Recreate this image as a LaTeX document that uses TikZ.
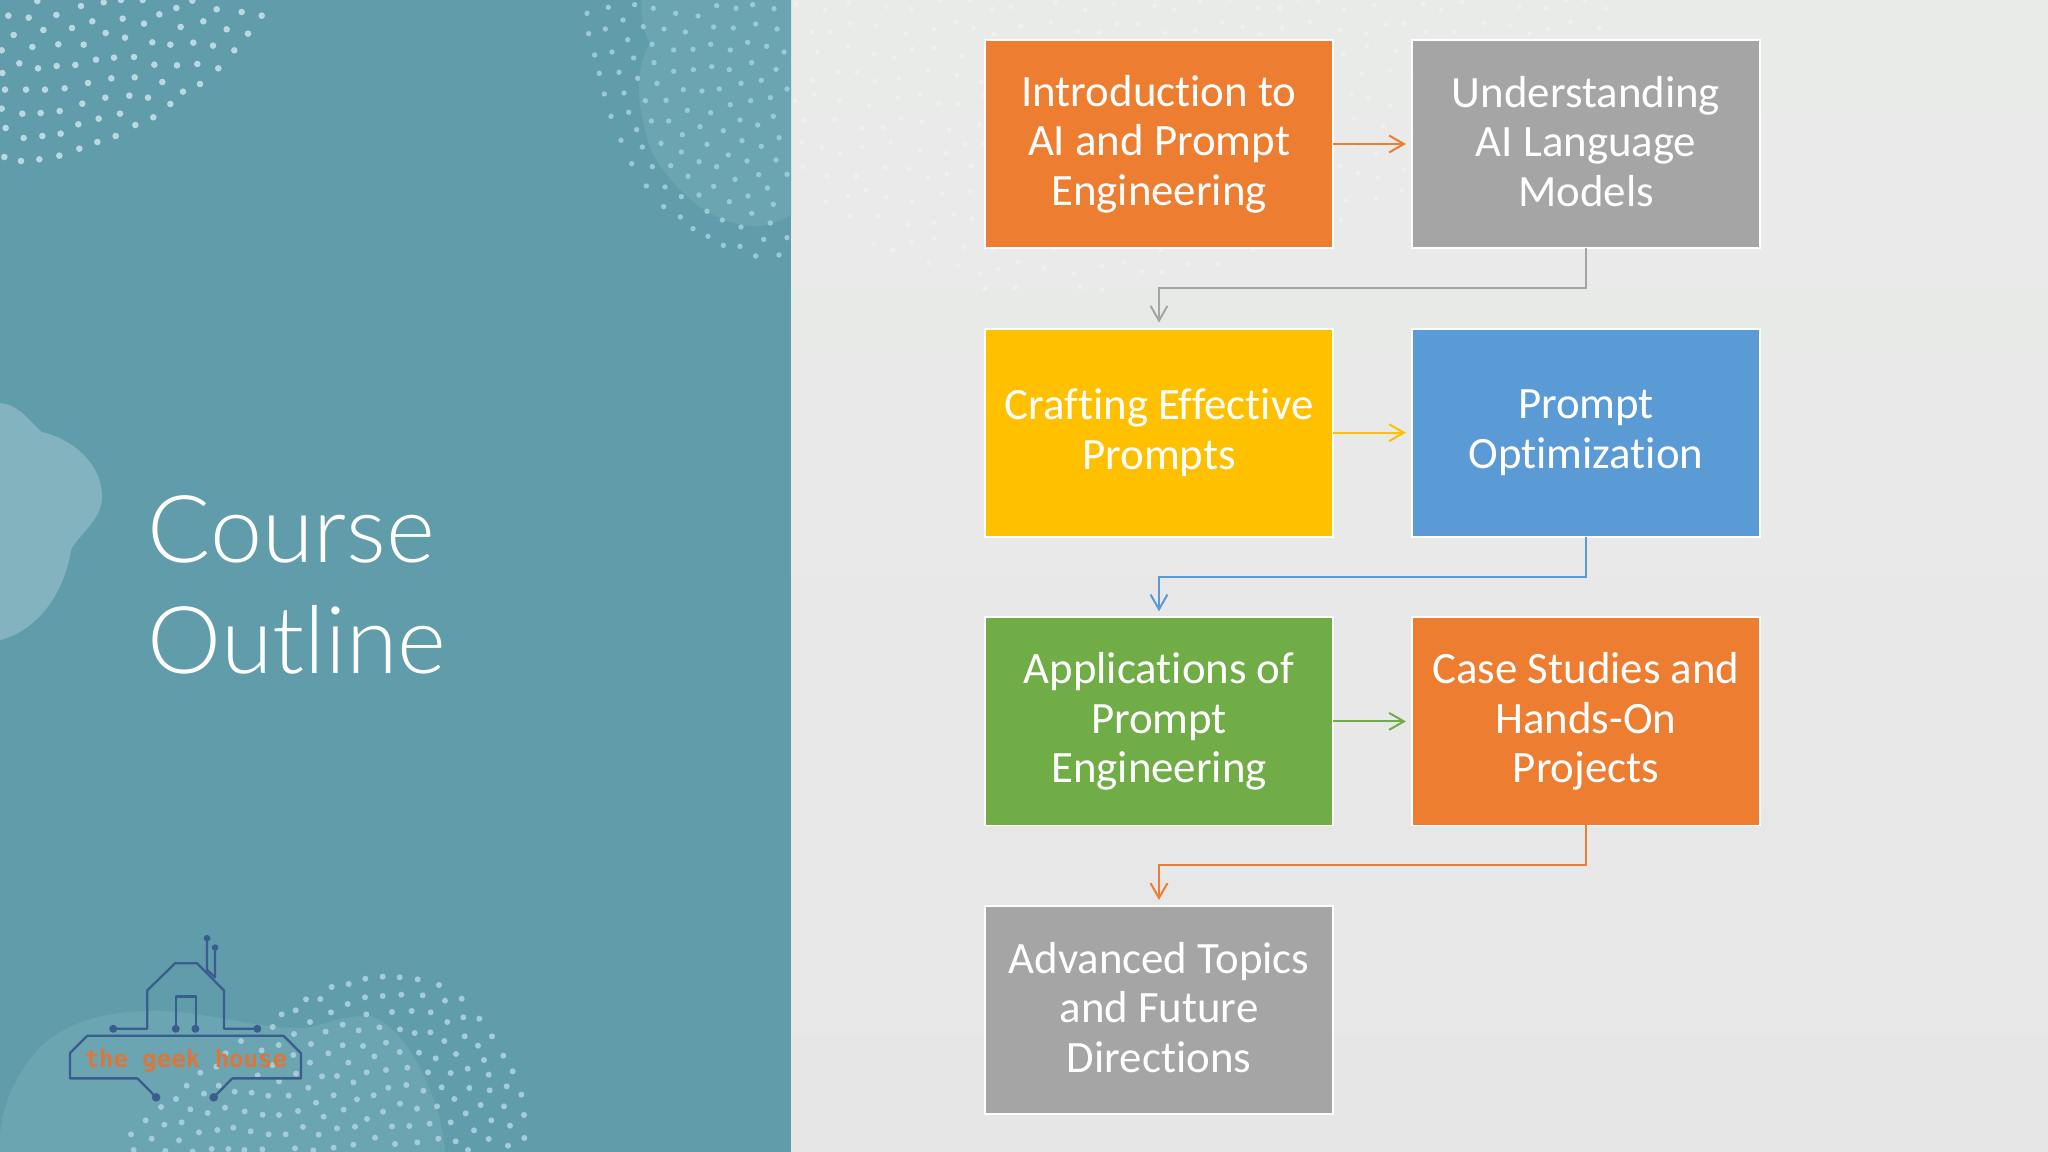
\documentclass[tikz,border=0pt]{standalone}
\usepackage{fontspec}
\setmainfont[Ligatures=CommonOff]{Carlito}
\newfontfamily\logofont[Ligatures=CommonOff]{DejaVu Sans Mono}
\newfontfamily\titlefont{Lato Light}
\usetikzlibrary{arrows.meta,calc}
\definecolor{panel}{HTML}{619CAB}
\definecolor{paperA}{HTML}{E9EBE9}
\definecolor{paperB}{HTML}{E7E6E7}
\definecolor{blobA}{HTML}{6BA5B2}
\definecolor{blobB}{HTML}{82B3BF}
\definecolor{faint}{HTML}{EFF0EF}
\definecolor{dotA}{HTML}{B9D8E2}
\definecolor{dotB}{HTML}{9BC9D5}
\definecolor{dotC}{HTML}{A5CDD8}
\definecolor{boxorange}{HTML}{ED7D31}
\definecolor{boxgray}{HTML}{A5A5A5}
\definecolor{boxyellow}{HTML}{FFC000}
\definecolor{boxblue}{HTML}{5B9BD5}
\definecolor{boxgreen}{HTML}{70AD47}
\definecolor{logoblue}{HTML}{3B5C8E}
\definecolor{logotext}{HTML}{D9773D}
\newcommand{\boxstrut}{\rule[-1.66pt]{0pt}{14.08pt}}
\tikzset{
  stepbox/.style={draw=white,line width=0.5pt,minimum width=3.48cm,minimum height=2.08cm,
    inner sep=0pt,outer sep=0pt,align=center,text=white,
    font=\fontsize{12.75pt}{14.08pt}\selectfont,
    execute at begin node=\boxstrut,execute at end node=\boxstrut},
  titletext/.style={anchor=base west,inner sep=0pt,text=white,font=\titlefont\fontsize{26.6pt}{31.3pt}\selectfont},
  link/.style={line width=0.57pt,-{Straight Barb[length=4.2pt,width=4.8pt]},shorten >=1.7pt},
  logoline/.style={draw=logoblue,line width=0.65pt,line join=round},
}
\newcommand{\dotset}[5]{\foreach \px/\py in {#5}{\fill[#4] ({#1+\px/3},{#2+\py/3}) circle[radius=#3];}}
\begin{document}
\begin{tikzpicture}[x=0.01cm,y=-0.01cm]
\useasboundingbox (0,0) rectangle (2048,1152);
% backgrounds
\fill[panel] (0,0) rectangle (791,1152);
\shade[top color=paperA,bottom color=paperB] (791,0) rectangle (2048,1152);
% faint dots on paper
\foreach \i in {0,...,36}{\foreach \j in {0,...,12}{
  \pgfmathsetmacro{\dx}{796+\i*24+6*sin(\j*137+\i*61)+(mod(\j,2)*12)}
  \pgfmathsetmacro{\dy}{4+\j*24+6*sin(\i*97+\j*43)}
  \pgfmathsetmacro{\uu}{max(\dx-1100,0)/100}
  \pgfmathsetmacro{\vv}{max(1000-\dx,0)/100}
  \pgfmathtruncatemacro{\inside}{(\dy<290-10*\uu*\uu-25*\vv*\vv)?1:0}
  \ifnum\inside=1 \fill[faint] (\dx,\dy) circle[radius=2.4]; \fi
}}
% blobs
\fill[blobB] (0,403) .. controls (20,405) and (30,422) .. (42,432)
  .. controls (75,440) and (102,465) .. (102,497)
  .. controls (102,520) and (78,535) .. (71,550)
  .. controls (65,590) and (40,630) .. (0,640) -- cycle;
\fill[blobA] (642,0) .. controls (640,20) and (645,35) .. (650,43)
  .. controls (640,60) and (637,85) .. (640,105)
  .. controls (645,135) and (650,155) .. (665,172)
  .. controls (690,205) and (720,225) .. (755,226)
  .. controls (770,226) and (782,220) .. (791,215) -- (791,0) -- cycle;
\fill[blobA] (0,1152) -- (0,1135) .. controls (2,1105) and (15,1075) .. (40,1047)
  .. controls (70,1020) and (110,1010) .. (160,1011)
  .. controls (210,1012) and (260,1030) .. (307,1028)
  .. controls (330,1022) and (350,1015) .. (370,1016)
  .. controls (400,1025) and (425,1070) .. (437,1110)
  .. controls (442,1125) and (444,1140) .. (445,1152) -- cycle;
% dots
\dotset{0}{0}{3.3}{dotA}{112/3,243/18,311/7,363/0,428/0,577/2,25/47,86/53,169/45,277/64,368/56,432/71,478/43,529/24,650/28,725/36,785/47,41/105,130/90,216/84,317/99,375/113,542/81,610/64,680/88,744/101,5/151,97/141,175/133,251/134,457/127,511/134,580/128,639/137,703/151,58/190,114/205,170/198,226/195,288/179,342/173,402/171,463/194,531/196,592/192,655/205,7/219,15/269,78/269,135/269,194/265,264/249,334/235,404/232,487/246,600/252,549/275,5/326,67/341,122/339,179/333,247/311,316/293,388/287,444/293,511/312,17/384,71/414,127/408,182/401,235/373,296/356,360/341,460/352,406/375,347/408,292/426,238/446,178/467,118/478,63/483,13/471}
\dotset{560}{0}{2.7}{dotB}{81/40,145/22,224/14,280/25,347/40,414/48,470/17,528/25,578/14,642/26,86/101,136/87,189/60,250/80,312/87,376/96,461/81,520/84,587/72,651/87,104/165,156/156,203/119,276/133,341/150,399/148,452/133,511/150,563/127,620/139,672/156,118/220,177/217,221/174,282/188,341/214,400/209,455/200,508/209,575/188,648/208,133/282,192/279,233/235,291/250,370/269,426/273,478/267,543/250,604/241,681/267,153/349,206/337,256/302,318/301,382/331,452/338,511/314,572/302,631/293,640/349,183/421,230/389,274/363,326/363,420/380,490/392,540/360,593/375,215/491,247/441,303/430,367/404,441/433,546/422,604/439,657/413,259/558,277/500,332/497,364/456,417/485,505/465,561/483,648/480,470/500,315/561,384/529,311/620,364/590,417/585,461/559,525/538,596/524,681/523,622/564,361/651,441/634,508/605,564/588,640/613,399/686,487/660,575/640,444/709,543/681,631/669,490/736,540/739,611/718,681/713,587/768,657/765}
\dotset{120}{950}{3}{dotC}{635/111,686/102,736/86,788/80,839/82,893/88,957/105,558/148,601/147,683/162,735/142,788/138,844/134,908/136,975/152,1025/146,485/193,527/181,570/216,633/187,739/193,816/186,875/183,932/187,982/216,1030/202,1078/206,458/231,522/252,617/245,668/224,716/241,778/232,840/238,884/249,931/247,973/273,1034/259,1116/259,573/282,668/286,729/288,798/278,1074/287,1150/317,363/273,425/301,476/285,520/315,625/310,763/319,839/306,897/308,947/325,1008/312,1092/330,317/310,570/338,685/338,862/353,740/367,798/360,924/367,992/369,1043/356,1106/374,1178/364,289/350,241/368,458/345,413/376,528/371,606/379,651/378,700/397,477/394,565/413,805/413,859/405,910/422,965/412,1048/414,1109/421,1160/409,200/407,296/407,344/425,395/428,445/437,506/437,641/436,711/448,761/436,1003/447,1204/434,168/447,252/431,123/471,211/478,315/473,374/484,588/458,671/479,840/461,891/476,951/469,1082/465,1152/469,263/489,428/494,477/495,534/483,611/500,789/485,1037/490,1212/495,77/511,133/524,185/517,549/531,741/507,651/535,705/530,816/529,868/528,929/521,992/517,1114/511,1170/527,33/553,95/566,177/571,237/547,292/540,340/533,392/544,446/553,497/553,596/554,765/563,1062/541,955/566,1007/574,1106/567,1213/564,41/600,136/603,218/605,275/597,325/597,373/600,427/598,525/595,580/601,641/593,700/584,825/582,892/577,1044/600,1164/587}
% title
\node[titletext] (titleA) at (147,563) {Course};
\node[titletext] (titleB) at (147,673) {Outline};
% logo
\begin{scope}[shift={(40,900)},x=0.00333cm,y=-0.00333cm]
\draw[logoline] (220,387) -- (322,387) -- (322,272) -- (406,190) -- (472,190) -- (553,272) -- (553,387) -- (653,387);
\draw[logoline] (408,387) -- (408,290) -- (469,290) -- (469,387);
\draw[logoline] (502,115) -- (502,210) -- (526,232) -- (526,143);
\draw[logoline] (293,536) -- (90,536) -- (90,460) -- (142,408) -- (732,408) -- (784,460) -- (784,536) -- (578,536) -- (522,593);
\draw[logoline] (293,536) -- (349,593);
\foreach \cx/\cy/\r in {220/387/12,408/387/12,467/387/12,653/387/12,502/115/10,526/143/10,349/593/13,522/593/13}{\fill[logoblue] (\cx,\cy) circle[radius=\r];}
\node[anchor=base west,inner sep=0pt,text=logotext,font=\logofont\bfseries\fontsize{6.83pt}{8pt}\selectfont] (logotxt) at (132,502) {the geek house};
\end{scope}
% boxes
\node[stepbox,fill=boxorange] (b1) at (1159,144) {Introduction to\\AI and Prompt\\Engineering};
\node[stepbox,fill=boxgray] (b2) at (1586,144) {Understanding\\AI Language\\Models};
\node[stepbox,fill=boxyellow] (b3) at (1159,432.7) {Crafting Effective\\Prompts};
\node[stepbox,fill=boxblue] (b4) at (1586,432.7) {Prompt\\Optimization};
\node[stepbox,fill=boxgreen] (b5) at (1159,721.4) {Applications of\\Prompt\\Engineering};
\node[stepbox,fill=boxorange] (b6) at (1586,721.4) {Case Studies and\\Hands-On\\Projects};
\node[stepbox,fill=boxgray] (b7) at (1159,1010) {Advanced Topics\\and Future\\Directions};
% connectors
\draw[link,boxorange] (b1) -- (b2);
\draw[link,boxgray] (b2.south) -- ++(0,40) -| (b3.north);
\draw[link,boxyellow] (b3) -- (b4);
\draw[link,boxblue] (b4.south) -- ++(0,40) -| (b5.north);
\draw[link,boxgreen] (b5) -- (b6);
\draw[link,boxorange] (b6.south) -- ++(0,40) -| (b7.north);
\end{tikzpicture}
\end{document}
